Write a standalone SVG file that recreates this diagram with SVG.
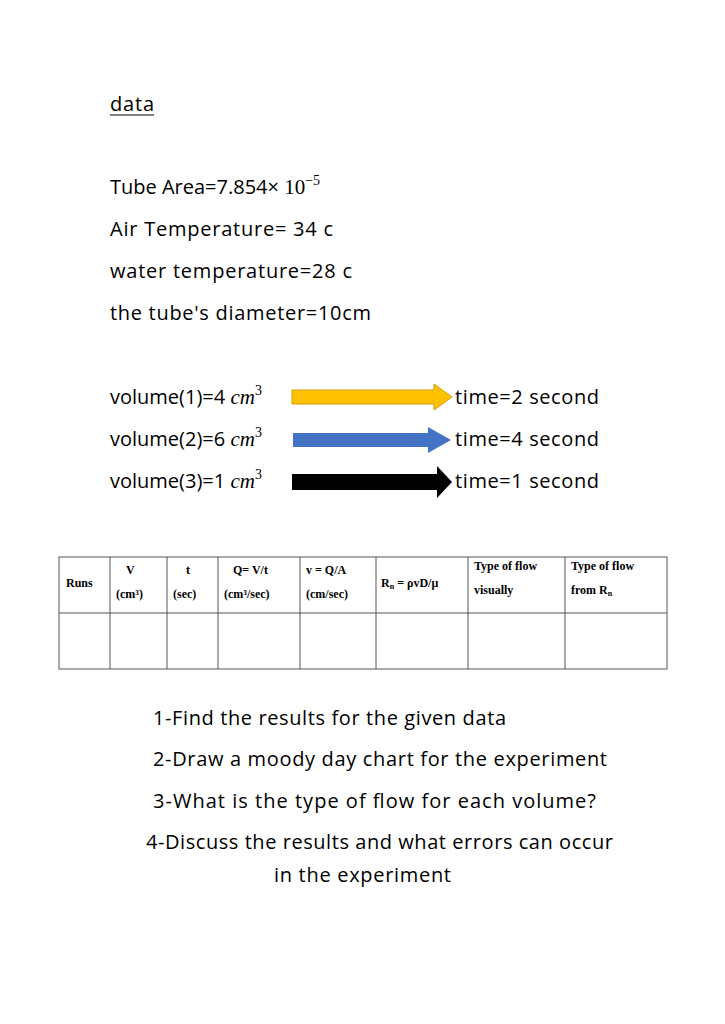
<svg xmlns="http://www.w3.org/2000/svg" width="725" height="1024" viewBox="0 0 725 1024">
<style>
.t{font-family:"Open Sans","Liberation Sans",sans-serif;font-size:20px;fill:#000}
.m{font-family:"Liberation Serif",serif;font-style:italic;font-size:21px}
.h{font-family:"Liberation Serif",serif;font-weight:bold;font-size:12px;fill:#000}
.g{stroke:#555;stroke-width:1;fill:none}
</style>
<rect width="725" height="1024" fill="#fff"/>
<g id="header">
<text class="t" x="110" y="111" textLength="44">data</text>
<line x1="110" y1="115" x2="154" y2="115" stroke="#000" stroke-width="1"/>
<text class="t" x="110" y="194">Tube Area=7.854× <tspan font-family="Liberation Serif" font-size="21">10</tspan><tspan font-family="Liberation Serif" font-size="14" dy="-9">−5</tspan></text>
<text class="t" x="110" y="236" textLength="223">Air Temperature= 34 c</text>
<text class="t" x="110" y="278" textLength="242">water temperature=28 c</text>
<text class="t" x="110" y="320" textLength="261">the tube's diameter=10cm</text>
</g>
<g id="vol1"><text class="t" x="110" y="404">volume(1)=4 <tspan class="m">cm</tspan><tspan font-family="Liberation Serif" font-size="14" dy="-9">3</tspan></text></g>
<g id="vol2"><text class="t" x="110" y="446">volume(2)=6 <tspan class="m">cm</tspan><tspan font-family="Liberation Serif" font-size="14" dy="-9">3</tspan></text></g>
<g id="vol3"><text class="t" x="110" y="488">volume(3)=1 <tspan class="m">cm</tspan><tspan font-family="Liberation Serif" font-size="14" dy="-9">3</tspan></text></g>
<g id="time1"><text class="t" x="455" y="404" textLength="144">time=2 second</text></g>
<g id="time2"><text class="t" x="455" y="446" textLength="144">time=4 second</text></g>
<g id="time3"><text class="t" x="455" y="488" textLength="144">time=1 second</text></g>
<g id="connectors">
<polygon points="292,390 434,390 434,384 452,397 434,410 434,404 292,404" fill="#FFC000" stroke="#D4A000" stroke-width="1"/>
<polygon points="293,433 428,433 428,427 451,440 428,453 428,447 293,447" fill="#4472C4"/>
<polygon points="292,474 437,474 437,466 452,482 437,498 437,490 292,490" fill="#000"/>
</g>
<g id="table">
<rect x="59" y="557" width="608" height="112" class="g"/>
<line x1="59" y1="613" x2="667" y2="613" class="g"/>
<line x1="110" y1="557" x2="110" y2="669" class="g"/>
<line x1="167" y1="557" x2="167" y2="669" class="g"/>
<line x1="218" y1="557" x2="218" y2="669" class="g"/>
<line x1="300" y1="557" x2="300" y2="669" class="g"/>
<line x1="376" y1="557" x2="376" y2="669" class="g"/>
<line x1="468" y1="557" x2="468" y2="669" class="g"/>
<line x1="565" y1="557" x2="565" y2="669" class="g"/>
<text class="h" x="66" y="587">Runs</text>
<text class="h" x="126" y="574">V</text>
<text class="h" x="116" y="598">(cm³)</text>
<text class="h" x="186" y="574">t</text>
<text class="h" x="173" y="598">(sec)</text>
<text class="h" x="233" y="574">Q= V/t</text>
<text class="h" x="224" y="598">(cm³/sec)</text>
<text class="h" x="306" y="574">v =  Q/A</text>
<text class="h" x="306" y="598">(cm/sec)</text>
<text class="h" x="381" y="587">R<tspan font-size="8" dy="2">n</tspan><tspan dy="-2"> = ρvD/μ</tspan></text>
<text class="h" x="474" y="570">Type  of  flow</text>
<text class="h" x="474" y="594">visually</text>
<text class="h" x="571" y="570">Type   of   flow</text>
<text class="h" x="571" y="594">from R<tspan font-size="8" dy="2">n</tspan></text>
</g>
<g id="questions">
<text class="t" x="153" y="725" textLength="353">1-Find the results for the given data</text>
<text class="t" x="153" y="766" textLength="454">2-Draw a moody day chart for the experiment</text>
<text class="t" x="153" y="808" textLength="443">3-What is the type of flow for each volume?</text>
<text class="t" x="146" y="849" textLength="467">4-Discuss the results and what errors can occur</text>
<text class="t" x="274" y="882" textLength="177">in the experiment</text>
</g>
</svg>
